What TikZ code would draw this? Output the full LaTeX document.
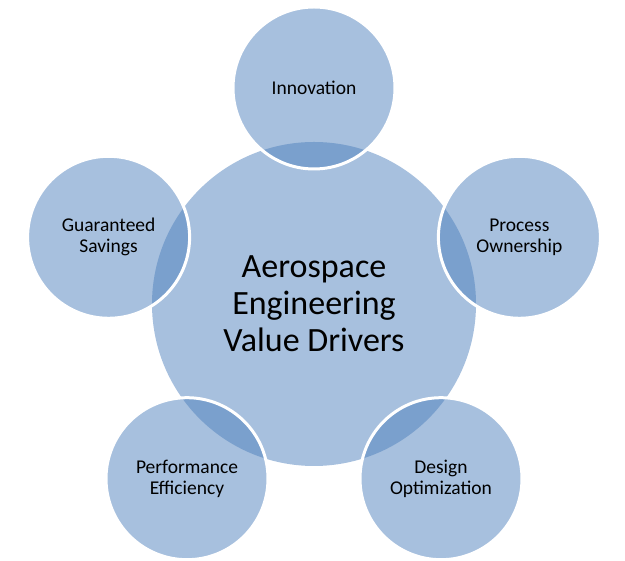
\documentclass[tikz,border=0pt]{standalone}
\usepackage{fontspec}
\setmainfont{Carlito}
\usepackage{xcolor}
\usepackage{tikz}
\definecolor{accentblue}{RGB}{79, 129, 189}
\usetikzlibrary{shapes, positioning}

\begin{document}
\begin{tikzpicture}[
    x=1pt, y=1pt,
    hub/.style={circle, fill=accentblue!50, inner sep=0pt, minimum size=324pt, align=center, font=\fontsize{34}{37}\selectfont},
    driver/.style={circle, fill=accentblue, fill opacity=0.5, text opacity=1, draw=white, line width=3pt, inner sep=0pt, minimum size=162pt, align=center, font=\fontsize{19.5}{21}\selectfont}
]
    \useasboundingbox (0, 0) rectangle (625, 561);

    % Central circle
    \node[hub] (hub) at (314, 257) {Aerospace\\Engineering\\Value Drivers};

    % Value drivers around it
    \node[driver] (innov) at (314, 473) {Innovation};
    \node[driver] (process) at (519.4, 323.7) {Process\\Ownership};
    \node[driver] (design) at (441, 82.3) {Design\\Optimization};
    \node[driver] (perf) at (187, 82.3) {Performance\\Efficiency};
    \node[driver] (savings) at (108.6, 323.7) {Guaranteed\\Savings};
\end{tikzpicture}
\end{document}
